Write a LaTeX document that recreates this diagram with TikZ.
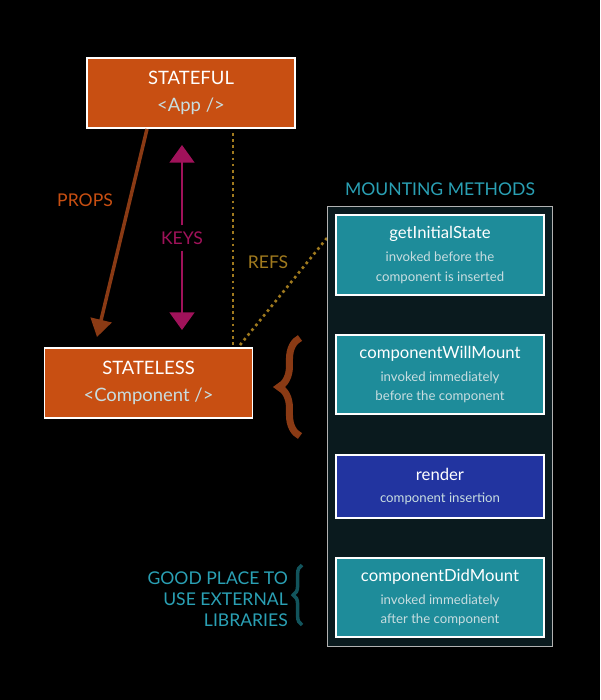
\documentclass[tikz,border=0pt]{standalone}
\usepackage{fontspec}
\setmainfont{Lato}
\usetikzlibrary{arrows.meta,decorations.pathreplacing}
\definecolor{orng}{HTML}{C84F12}
\definecolor{brn}{HTML}{8A3A14}
\definecolor{mag}{HTML}{A0125A}
\definecolor{gold}{HTML}{A07A1E}
\definecolor{teal}{HTML}{1E8C9A}
\definecolor{tealtxt}{HTML}{2AA0B4}
\definecolor{rblue}{HTML}{2234A0}
\definecolor{panel}{HTML}{0A1A1E}
\definecolor{pale}{HTML}{C8DDE0}
\newcommand\subtxt{\fontsize{7.5}{10}\selectfont\color{pale}}
\begin{document}
\begin{tikzpicture}[x=0.02cm,y=-0.02cm,
  comp/.style={draw=white,line width=1pt,fill=orng,minimum width=4.16cm,minimum height=1.4cm,align=center,text=white,font=\fontsize{10.5}{15}\selectfont},
  meth/.style={draw=white,line width=1pt,fill=teal,minimum width=4.16cm,align=center,text=white,font=\fontsize{9.5}{11}\selectfont},
  lbl/.style={font=\fontsize{10}{12}\selectfont}]
\fill[black] (0,0) rectangle (600,700);
\node[comp] (app) at (191,93) {STATEFUL\\\color{pale}<App />};
\node[comp] (cmp) at (148.5,383) {STATELESS\\\color{pale}<Component />};
% props
\coordinate (p1) at (147,129); \coordinate (p2) at (97,337);
\draw[brn,line width=2pt,-{Triangle[length=10pt,width=12pt]}] (p1) -- (p2);
\node[lbl,text=orng] (props) at (85,200) {PROPS};
% keys
\node[lbl,text=mag] (keys) at (182,238) {KEYS};
\coordinate (k1) at (182,145); \coordinate (k2) at (182,330);
\draw[mag,line width=1.5pt,-{Triangle[length=10pt,width=14pt]}] (keys.north) -- (k1);
\draw[mag,line width=1.5pt,-{Triangle[length=10pt,width=14pt]}] (keys.south) -- (k2);
% refs
\coordinate (r1) at (233,133); \coordinate (r2) at (233,347);
\coordinate (r3) at (240,345); \coordinate (r4) at (327,238);
\draw[gold,line width=1.5pt,dotted] (r1) -- (r2);
\draw[gold,line width=1.5pt,dotted] (r3) -- (r4);
\node[lbl,text=gold] (refs) at (268,262) {REFS};
% brace
\coordinate (b1) at (300,436); \coordinate (b2) at (300,338);
\draw[brn,line width=4pt,decorate,decoration={brace,amplitude=12pt}] (b1) -- (b2);
% panel
\node[lbl,text=tealtxt] (mt) at (440,189) {MOUNTING METHODS};
\draw[gray!60,fill=panel] (327,206) rectangle (552,646);
\node[meth,minimum height=1.6cm] (gis) at (440,255) {getInitialState\\[2pt]\subtxt invoked before the\\\subtxt component is inserted};
\node[meth,minimum height=1.58cm] (cwm) at (440,374.5) {componentWillMount\\[2pt]\subtxt invoked immediately\\\subtxt before the component};
\node[meth,fill=rblue,minimum height=1.26cm] (ren) at (440,486.5) {render\\[2pt]\subtxt component insertion};
\node[meth,minimum height=1.58cm] (cdm) at (440,597.5) {componentDidMount\\[2pt]\subtxt invoked immediately\\\subtxt after the component};
% good place
\node[lbl,text=tealtxt,align=right,anchor=east] (gp) at (294,599) {GOOD PLACE TO\\USE EXTERNAL\\LIBRARIES};
\coordinate (s1) at (302,625); \coordinate (s2) at (302,565);
\draw[teal!60!black,line width=2pt,decorate,decoration={brace,amplitude=5pt}] (s1) -- (s2);
\end{tikzpicture}
\end{document}
